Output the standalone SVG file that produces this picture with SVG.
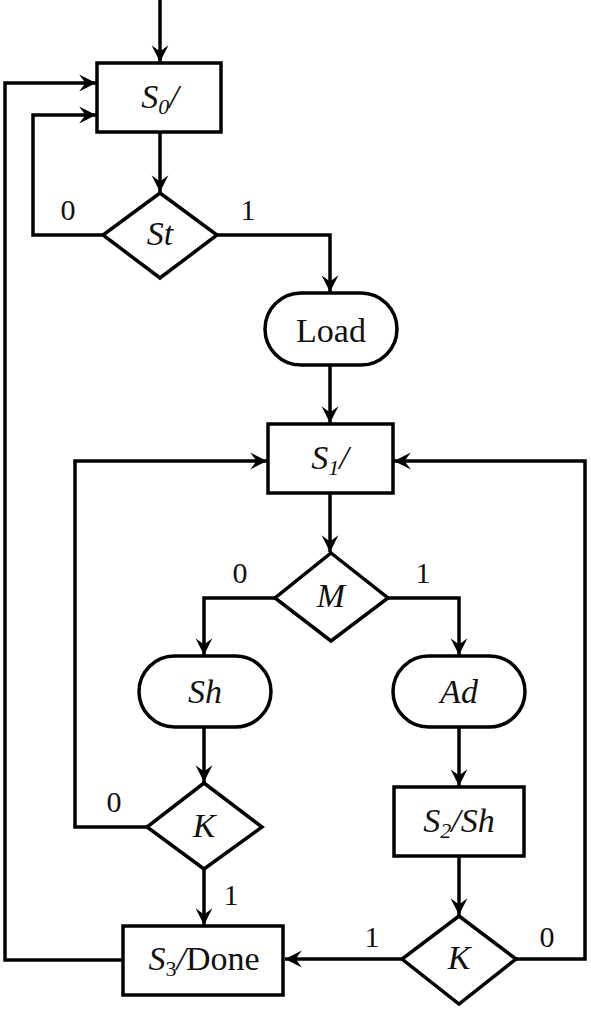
<svg xmlns="http://www.w3.org/2000/svg" width="591" height="1010" viewBox="0 0 591 1010">
<style>
.box{fill:#fff;stroke:#000;stroke-width:3.5}
.ln{fill:none;stroke:#000;stroke-width:3.5;stroke-linejoin:miter}
text{font-family:'Liberation Serif','Times New Roman',serif;text-anchor:middle;fill:#111}
.t{font-size:34px}
.i{font-style:italic}
.lbl{font-size:30px}
.sub{font-size:22px}
</style>
<defs>
<marker id="ah" markerUnits="userSpaceOnUse" markerWidth="20" markerHeight="20" viewBox="-17 -9 19 18" refX="0" refY="0" orient="auto">
<path d="M0,0 L-16,-8 L-10,0 L-16,8 Z" fill="#000"/>
</marker>
</defs>
<rect width="591" height="1010" fill="#fff"/>
<g id="connectors">
<path class="ln" d="M160,0 V62" marker-end="url(#ah)"/>
<path class="ln" d="M160,132 V192" marker-end="url(#ah)"/>
<path class="ln" d="M103,235 H33 V115 H96" marker-end="url(#ah)"/>
<path class="ln" d="M217,235 H330 V292" marker-end="url(#ah)"/>
<path class="ln" d="M330,365 V423" marker-end="url(#ah)"/>
<path class="ln" d="M330,493 V552" marker-end="url(#ah)"/>
<path class="ln" d="M275,598 H204 V655" marker-end="url(#ah)"/>
<path class="ln" d="M388,598 H459 V655" marker-end="url(#ah)"/>
<path class="ln" d="M204,727 V782" marker-end="url(#ah)"/>
<path class="ln" d="M459,727 V786" marker-end="url(#ah)"/>
<path class="ln" d="M147,827 H75 V461 H267" marker-end="url(#ah)"/>
<path class="ln" d="M204,869 V925" marker-end="url(#ah)"/>
<path class="ln" d="M459,856 V915" marker-end="url(#ah)"/>
<path class="ln" d="M402,959 H285" marker-end="url(#ah)"/>
<path class="ln" d="M516,959 H585 V461 H394" marker-end="url(#ah)"/>
<path class="ln" d="M123,960 H5 V83 H96" marker-end="url(#ah)"/>
<text class="lbl" x="68" y="220">0</text>
<text class="lbl" x="248" y="220">1</text>
<text class="lbl" x="240" y="583">0</text>
<text class="lbl" x="423" y="583">1</text>
<text class="lbl" x="114" y="812">0</text>
<text class="lbl" x="231" y="905">1</text>
<text class="lbl" x="372" y="947">1</text>
<text class="lbl" x="547" y="947">0</text>
</g>
<g id="S0">
<rect class="box" x="97" y="63" width="124" height="69"/>
<text class="t i" x="160" y="108">S<tspan class="sub" dy="6">0</tspan><tspan dy="-6">/</tspan></text>
</g>
<g id="St">
<polygon class="box" points="160,193 217,235 160,278 103,235"/>
<text class="t i" x="160" y="245">St</text>
</g>
<g id="Load">
<rect class="box" x="265" y="293" width="132" height="72" rx="36" ry="36"/>
<text class="t" x="331" y="342">Load</text>
</g>
<g id="S1">
<rect class="box" x="268" y="424" width="125" height="69"/>
<text class="t i" x="330" y="469">S<tspan class="sub" dy="6">1</tspan><tspan dy="-6">/</tspan></text>
</g>
<g id="M">
<polygon class="box" points="331,553 388,598 331,641 275,598"/>
<text class="t i" x="331" y="607">M</text>
</g>
<g id="Sh">
<rect class="box" x="139" y="656" width="132" height="71" rx="35.5" ry="35.5"/>
<text class="t i" x="205" y="703">Sh</text>
</g>
<g id="Ad">
<rect class="box" x="393" y="656" width="132" height="71" rx="35.5" ry="35.5"/>
<text class="t i" x="459" y="703">Ad</text>
</g>
<g id="S2">
<rect class="box" x="394" y="787" width="130" height="69"/>
<text class="t i" x="459" y="832">S<tspan class="sub" dy="6">2</tspan><tspan dy="-6">/Sh</tspan></text>
</g>
<g id="K1">
<polygon class="box" points="204,783 262,827 204,869 147,827"/>
<text class="t i" x="204" y="837">K</text>
</g>
<g id="S3">
<rect class="box" x="123" y="926" width="160" height="69"/>
<text class="t" x="204" y="970"><tspan class="i">S</tspan><tspan class="sub" dy="6">3</tspan><tspan class="i" dy="-6">/</tspan>Done</text>
</g>
<g id="K2">
<polygon class="box" points="459,916 516,959 459,1004 402,959"/>
<text class="t i" x="459" y="969">K</text>
</g>
</svg>
